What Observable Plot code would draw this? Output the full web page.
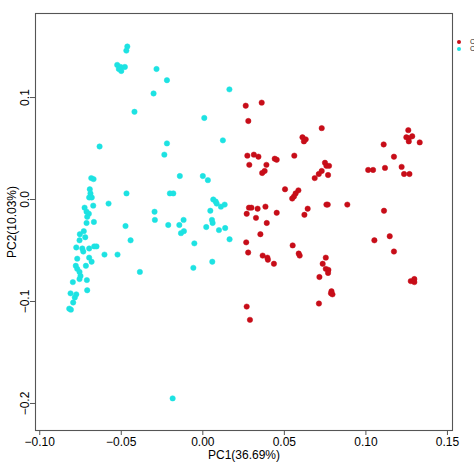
<!DOCTYPE html>
<html>
<head>
<meta charset="utf-8">
<script src="https://cdn.jsdelivr.net/npm/d3@7"></script>
<script src="https://cdn.jsdelivr.net/npm/@observablehq/plot@0.6"></script>
<style>
  html, body { margin: 0; padding: 0; background: #fff; overflow: hidden; width: 474px; height: 474px; }
  #wrap { position: relative; width: 474px; height: 474px; font-family: "Liberation Sans", Arial, sans-serif; }
  #legend { position: absolute; left: 456px; top: 39px; font-size: 7px; line-height: 6.5px; white-space: nowrap; color: #222; }
  #legend .row { display: flex; align-items: center; height: 6.5px; }
  #legend .dot { display: inline-block; width: 4px; height: 4px; border-radius: 50%; margin-left: 1px; margin-right: 9px; }
</style>
</head>
<body>
<div id="wrap"></div>
<script>
// Group names (legend; cut off at the right edge in the reference)
const groups = ["Case", "Control"];
const groupColors = ["#C70D18", "#1DE2E2"];

// Red group: PC1 / PC2
const redPC1 = [0.0263,0.0361,0.0279,0.0729,0.0611,0.0631,0.0620,0.1260,0.1248,0.1263,0.1284,0.1263,0.1330,0.1109,
  0.0273,0.0313,0.0341,0.0285,0.0441,0.0453,0.0561,0.0390,0.0364,0.0379,0.0749,0.0758,0.0774,0.0729,0.0711,0.0686,0.0768,
  0.1172,0.1014,0.1044,0.1117,0.1219,0.1234,0.1267,0.0504,0.0586,0.0569,0.0559,0.0548,0.0283,0.0298,0.0336,0.0384,0.0643,
  0.0758,0.0766,0.0886,0.1111,0.0269,0.0453,0.0623,0.0326,0.0392,0.0353,0.0266,0.0278,0.0367,0.0396,0.0399,0.0436,0.0551,
  0.0588,0.0594,0.0754,0.0735,0.0754,0.0770,0.0768,0.0715,0.0789,0.0795,0.0786,0.0712,0.1052,0.1146,0.1172,0.1275,0.1297,
  0.1297,0.0269,0.0289];
const redPC2 = [0.092,0.095,0.077,0.070,0.061,0.059,0.057,0.068,0.061,0.060,0.062,0.057,0.056,0.054,
  0.043,0.044,0.042,0.034,0.040,0.039,0.043,0.034,0.026,0.028,0.036,0.033,0.033,0.028,0.025,0.021,0.024,
  0.042,0.029,0.029,0.031,0.032,0.025,0.025,0.010,0.009,0.006,0.003,0.001,-0.008,-0.008,-0.009,-0.007,-0.009,
  -0.005,-0.005,-0.005,-0.011,-0.014,-0.013,-0.015,-0.018,-0.023,-0.034,-0.042,-0.052,-0.055,-0.057,-0.059,-0.063,-0.045,
  -0.053,-0.055,-0.057,-0.063,-0.068,-0.069,-0.072,-0.076,-0.090,-0.093,-0.092,-0.102,-0.040,-0.036,-0.051,-0.080,-0.078,
  -0.081,-0.105,-0.118];

// Cyan group: PC1 / PC2
const cyanPC1 = [-0.0463,-0.0469,-0.0525,-0.0504,-0.0478,-0.0500,-0.0515,-0.0284,-0.0220,-0.0302,0.0163,-0.0419,0.0009,
  -0.0633,-0.0220,-0.0236,0.0123,-0.0684,-0.0670,-0.0141,0.0000,0.0031,-0.0693,-0.0689,-0.0697,-0.0681,-0.0468,-0.0202,
  -0.0181,0.0064,0.0079,0.0085,0.0134,0.0111,-0.0672,-0.0725,-0.0578,-0.0713,-0.0699,-0.0709,-0.0296,0.0046,-0.0668,
  -0.0713,-0.0294,-0.0118,0.0056,0.0060,-0.0474,-0.0212,-0.0144,0.0021,0.0137,0.0099,-0.0730,-0.0754,-0.0721,-0.0756,
  -0.0134,-0.0116,-0.0443,0.0164,-0.0052,-0.0776,-0.0739,-0.0733,-0.0697,-0.0666,-0.0652,-0.0603,-0.0523,-0.0770,-0.0697,
  -0.0682,-0.0717,-0.0779,-0.0770,-0.0756,-0.0750,-0.0756,-0.0386,0.0058,-0.0058,-0.0711,-0.0797,-0.0709,-0.0811,-0.0776,
  -0.0785,-0.0795,-0.0819,-0.0809,-0.0185];
const cyanPC2 = [0.150,0.146,0.132,0.130,0.130,0.126,0.128,0.128,0.117,0.104,0.108,0.086,0.080,
  0.052,0.055,0.044,0.058,0.021,0.020,0.023,0.023,0.019,0.010,0.006,0.002,0.002,0.006,0.006,
  0.006,0.000,-0.002,-0.004,-0.005,-0.007,-0.006,-0.008,-0.004,-0.012,-0.014,-0.017,-0.012,-0.011,-0.022,
  -0.023,-0.020,-0.020,-0.020,-0.023,-0.026,-0.025,-0.025,-0.027,-0.028,-0.030,-0.031,-0.034,-0.037,-0.040,
  -0.033,-0.031,-0.040,-0.039,-0.043,-0.047,-0.048,-0.051,-0.048,-0.046,-0.046,-0.054,-0.054,-0.058,-0.057,
  -0.061,-0.065,-0.065,-0.068,-0.071,-0.075,-0.078,-0.071,-0.061,-0.067,-0.079,-0.081,-0.089,-0.092,-0.093,
  -0.096,-0.101,-0.107,-0.108,-0.195];

// Axis ticks
const xTicks = [-0.10, -0.05, 0.00, 0.05, 0.10, 0.15];
const yTicks = [-0.2, -0.1, 0.0, 0.1];
const xLabel = "PC1(36.69%)";
const yLabel = "PC2(10.03%)";

const data = [
  ...redPC1.map((v, i) => ({pc1: v, pc2: redPC2[i], group: groups[0]})),
  ...cyanPC1.map((v, i) => ({pc1: v, pc2: cyanPC2[i], group: groups[1]}))
];

const fmt = (digits) => (d) => {
  const s = Math.abs(d).toFixed(digits);
  return (d < -1e-9 ? "\u2212" : "") + s;
};

const chart = Plot.plot({
  width: 474,
  height: 474,
  marginTop: 13,
  marginRight: 22,
  marginBottom: 44,
  marginLeft: 35,
  style: {fontFamily: "'Liberation Sans', Arial, sans-serif", fontSize: "12px", color: "#000", background: "#fff"},
  x: {domain: [-0.1026, 0.1531]},
  y: {domain: [-0.2265, 0.1824]},
  color: {domain: groups, range: groupColors},
  marks: [
    Plot.frame({stroke: "#555", strokeWidth: 1.1}),
    Plot.axisX({ticks: xTicks, tickFormat: fmt(2), tickSize: 5, tickPadding: 2, stroke: "#555",
      fontSize: 12, label: xLabel, labelAnchor: "center", labelArrow: "none", labelOffset: 28}),
    Plot.axisY({ticks: yTicks, tickFormat: fmt(1), tickSize: 5, tickPadding: 2, stroke: "#555",
      tickRotate: -90, fontSize: 12, label: yLabel, labelAnchor: "center", labelArrow: "none", labelOffset: 28}),
    Plot.dot(data, {x: "pc1", y: "pc2", fill: "group", stroke: "group", strokeWidth: 0.5, r: 2.7})
  ]
});

const wrap = document.getElementById("wrap");
wrap.appendChild(chart);

const legend = document.createElement("div");
legend.id = "legend";
groups.forEach((g, i) => {
  const row = document.createElement("div");
  row.className = "row";
  const dot = document.createElement("span");
  dot.className = "dot";
  dot.style.background = groupColors[i];
  const txt = document.createElement("span");
  txt.textContent = g;
  row.appendChild(dot);
  row.appendChild(txt);
  legend.appendChild(row);
});
wrap.appendChild(legend);
</script>
</body>
</html>
